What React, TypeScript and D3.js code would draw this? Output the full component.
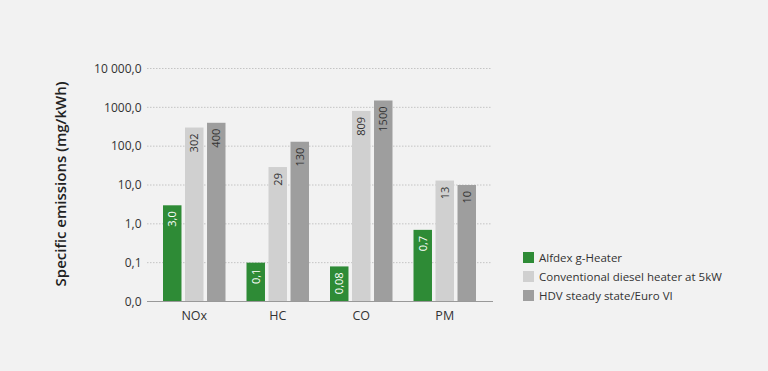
import React from "react";
import * as d3 from "d3";

const categories = ["NOx", "HC", "CO", "PM"];
const seriesNames = ["Alfdex g-Heater", "Conventional diesel heater at 5kW", "HDV steady state/Euro VI"];
const alfdex = [3.0, 0.1, 0.08, 0.7];
const conventional = [302, 29, 809, 13];
const hdv = [400, 130, 1500, 10];
const valueLabels = [
  ["3,0", "0,1", "0,08", "0,7"],
  ["302", "29", "809", "13"],
  ["400", "130", "1500", "10"],
];
const tickValues = [0.01, 0.1, 1, 10, 100, 1000, 10000];
const tickLabels = ["0,0", "0,1", "1,0", "10,0", "100,0", "1000,0", "10 000,0"];
const colors = ["#2e8b36", "#d0d0d0", "#9e9e9e"];
const labelColors = ["#ffffff", "#333333", "#333333"];

const W = 768;
const H = 371;
const FONT = "'Open Sans', Lato, sans-serif";

export default function App() {
  const series = [alfdex, conventional, hdv];
  const y = d3.scaleLog().domain([0.01, 10000]).range([301.5, 68.5]);
  const x0 = d3.scaleBand<string>().domain(categories).range([152.5, 486.5]).padding(0);
  const x1 = d3.scaleBand<number>().domain([0, 1, 2]).range([0, 62.5]).paddingInner(0.16).paddingOuter(0);
  const groupOffset = (x0.bandwidth() - 62.5) / 2;
  const gridX0 = 147;
  const gridX1 = 492;

  return (
    <svg width={W} height={H} style={{ position: "absolute", left: 0, top: 0, background: "#f2f2f2" }} fontFamily={FONT}>
      <rect x={0} y={0} width={W} height={H} fill="#f2f2f2" />
      {tickValues.map((t, i) => (
        <g key={t}>
          {i > 0 && (
            <line x1={gridX0} x2={gridX1} y1={y(t)} y2={y(t)} stroke="#c4c4c4" strokeWidth={1} strokeDasharray="1.5,1.5" />
          )}
          <text x={141.5} y={y(t)} dy="0.35em" textAnchor="end" fontSize={12} fill="#333">
            {tickLabels[i]}
          </text>
        </g>
      ))}
      {categories.map((c, ci) => (
        <g key={c} transform={`translate(${(x0(c) ?? 0) + groupOffset},0)`}>
          {series.map((s, si) => {
            const v = s[ci];
            const bx = x1(si) ?? 0;
            const bw = x1.bandwidth();
            const top = y(v);
            const cx = bx + bw / 2;
            const ly = top + 6;
            return (
              <g key={si}>
                <rect x={bx} y={top} width={bw} height={y(0.01) - top} fill={colors[si]} />
                <text
                  transform={`translate(${cx},${ly}) rotate(-90)`}
                  textAnchor="end"
                  dy="0.35em"
                  fontSize={11}
                  fill={labelColors[si]}
                >
                  {valueLabels[si][ci]}
                </text>
              </g>
            );
          })}
        </g>
      ))}
      <line x1={gridX0} x2={gridX1 + 1} y1={y(0.01)} y2={y(0.01)} stroke="#999" strokeWidth={1.2} />
      {categories.map((c) => (
        <text key={c} x={(x0(c) ?? 0) + x0.bandwidth() / 2} y={320} textAnchor="middle" fontSize={12.5} fill="#333">
          {c}
        </text>
      ))}
      <text transform={`translate(65.5,184) rotate(-90)`} textAnchor="middle" fontSize={15} fontWeight={600} fill="#222">
        Specific emissions (mg/kWh)
      </text>
      {seriesNames.map((n, i) => (
        <g key={n} transform={`translate(523,${252 + i * 19})`}>
          <rect x={0} y={0} width={11} height={11} fill={colors[i]} />
          <text x={16} y={5.5} dy="0.35em" fontSize={11.5} fill="#333">
            {n}
          </text>
        </g>
      ))}
    </svg>
  );
}
